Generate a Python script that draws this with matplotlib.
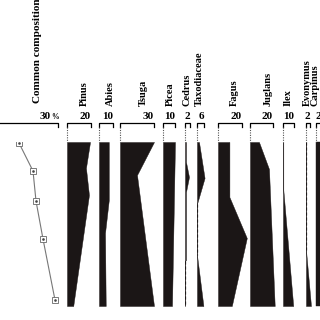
import numpy as np
import matplotlib
matplotlib.use("Agg")
import matplotlib.pyplot as plt

# depth below top of the section (arbitrary units, 0 = top sample)
common_depth = [1, 29, 59, 97, 158]
common_vals = [10.5, 17.5, 19.0, 22.5, 28.5]

taxa = ["Pinus", "Abies", "Tsuga", "Picea", "Cedrus", "Taxodiaceae",
        "Fagus", "Juglans", "Ilex", "Evonymus", "Carpinus"]
scale_max = [20, 10, 30, 10, 2, 6, 20, 20, 10, 2, 2]

pinus_d = [0, 26, 53, 164]
pinus_v = [19.2, 15.8, 18.3, 5.2]
abies_d = [0, 58, 91, 164]
abies_v = [7.0, 7.0, 4.3, 4.8]
tsuga_d = [0, 33, 164]
tsuga_v = [30.0, 15.0, 30.0]
picea_d = [0, 164]
picea_v = [10.0, 7.5]
cedrus_d = [0, 20, 35, 50, 118, 119, 164]
cedrus_v = [0.4, 0.4, 1.6, 0.4, 0.4, 0.0, 0.0]
taxod_d = [0, 36, 62, 113, 164]
taxod_v = [1.7, 6.5, 0.0, 0.0, 5.5]
fagus_d = [0, 55, 96, 164]
fagus_v = [9.5, 9.5, 24.0, 11.5]
juglans_d = [0, 27, 164]
juglans_v = [7.8, 16.5, 21.5]
ilex_d = [0, 48, 164]
ilex_v = [0.3, 0.3, 9.3]
evon_d = [0, 108, 164]
evon_v = [0.0, 0.0, 2.5]
carp_d = [0, 164]
carp_v = [3.0, 3.0]

depths = [pinus_d, abies_d, tsuga_d, picea_d, cedrus_d, taxod_d,
          fagus_d, juglans_d, ilex_d, evon_d, carp_d]
values = [pinus_v, abies_v, tsuga_v, picea_v, cedrus_v, taxod_v,
          fagus_v, juglans_v, ilex_v, evon_v, carp_v]

# layout in pixels: column left edge, column width (= scale bracket), label x
col_left = [67, 99, 120, 163, 185, 197, 218, 250, 283, 306, 316]
col_width = [24, 14, 34, 12, 5, 7, 24, 23, 11, 4, 5]
label_x = [84, 110, 143, 170, 187, 199, 234, 268, 288, 307, 315]

W = H = 320
top_px, bot_px = 142, 306
head_px, tick_px = 123, 127
ink = "#1b1616"
serif = ["Liberation Serif", "DejaVu Serif"]

fig = plt.figure(figsize=(3.2, 3.2), dpi=100)
fig.patch.set_facecolor("white")
depth_max = bot_px - top_px


def col_axes(x, w):
    return fig.add_axes([x / W, (H - bot_px) / H, w / W, depth_max / H])


def frac_y(ypx):
    return (bot_px - ypx) / depth_max


# common composition curve
ax = col_axes(-2, 60)
ax.set_xlim(0, 30)
ax.set_ylim(depth_max, 0)
ax.axis("off")
ax.plot(common_vals, common_depth, color="#777777", lw=0.8, zorder=2)
ax.plot(common_vals, common_depth, ls="none", marker="s", ms=4.2,
        mfc="white", mec="#666666", mew=0.6, zorder=3)
ax.plot(common_vals, common_depth, ls="none", marker="s", ms=0.8,
        color="#444444", zorder=4)
ax.plot([0, 1, 1], [frac_y(head_px), frac_y(head_px), frac_y(tick_px)],
        transform=ax.transAxes, color="black", lw=0.9, clip_on=False)
ax.text(0.88, frac_y(head_px) + 0.012, "30", transform=ax.transAxes,
        ha="right", va="bottom", fontsize=8, fontweight="bold", family=serif)
ax.text(0.885, frac_y(head_px) + 0.012, "%", transform=ax.transAxes,
        ha="left", va="bottom", fontsize=5.5, fontweight="bold", family=serif)
fig.text(38 / W, 1 - 103 / H, "Common composition", rotation=90,
         ha="center", va="bottom", fontsize=8.1, fontweight="bold", family=serif)

for name, smax, d, v, x, w, lx in zip(taxa, scale_max, depths, values,
                                       col_left, col_width, label_x):
    ax = col_axes(x, w)
    ax.set_xlim(0, smax)
    ax.set_ylim(depth_max, 0)
    ax.axis("off")
    d = np.array(d, dtype=float)
    v = np.array(v, dtype=float)
    ax.fill_betweenx(d, 0, v, color=ink, lw=0.3, clip_on=False, zorder=2)
    # zero line dashed where the taxon is absent
    zero = np.where(v == 0, 0.0, np.nan)
    ax.plot(zero, d, color="#333333", lw=0.9, ls=(0, (2.5, 1.5)), zorder=1)
    # scale bracket
    yb, yt = frac_y(head_px), frac_y(tick_px)
    ax.plot([0, 0, 1, 1], [yt, yb, yb, yt], transform=ax.transAxes,
            color="black", lw=0.9, clip_on=False)
    ax.plot([0, 0], [yt, 1.0], transform=ax.transAxes, color="#555555",
            lw=0.8, ls=(0, (1, 1.2)), clip_on=False)
    ax.text(1.0, yb + 0.012, str(smax), transform=ax.transAxes, ha="right",
            va="bottom", fontsize=8, fontweight="bold", family=serif,
            clip_on=False)
    fig.text(lx / W, 1 - 106 / H, name, rotation=90, ha="center",
             va="bottom", fontsize=7.5, fontweight="bold", family=serif)

fig.savefig("out.png", dpi=100, facecolor="white")
